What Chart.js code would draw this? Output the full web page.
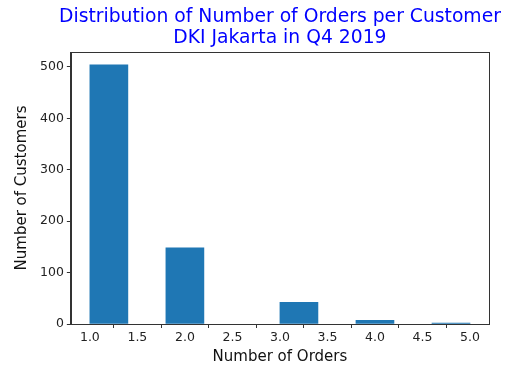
<!DOCTYPE html>
<html><head><meta charset="utf-8">
<script src="https://cdn.jsdelivr.net/npm/chart.js@4"></script>
<style>html,body{margin:0;padding:0;background:#fff}#wrap{width:525px;height:372px}</style>
</head><body><div id="wrap"><canvas id="c"></canvas></div>
<script>
const binCenters = [1.2, 1.6, 2.0, 2.4, 2.8, 3.2, 3.6, 4.0, 4.4, 4.8];
const counts = [504, 0, 148, 0, 0, 42, 0, 7, 0, 2];
const xTicks = [1.0, 1.5, 2.0, 2.5, 3.0, 3.5, 4.0, 4.5, 5.0];
const yTicks = [0, 100, 200, 300, 400, 500];
const titleLines = ['Distribution of Number of Orders per Customer', 'DKI Jakarta in Q4 2019'];

const frame = {
  id: 'frame',
  afterDraw(chart) {
    const a = chart.chartArea, ctx = chart.ctx;
    ctx.save();
    ctx.strokeStyle = '#333';
    ctx.lineWidth = 1;
    ctx.strokeRect(Math.round(a.left) + 0.5, Math.round(a.top) + 0.5, Math.round(a.right - a.left), Math.round(a.bottom - a.top));
    // title centred over the plot area, like matplotlib
    ctx.fillStyle = '#0000ff';
    ctx.font = '18.75px "DejaVu Sans"';
    ctx.textAlign = 'center';
    ctx.textBaseline = 'middle';
    const cx = (a.left + a.right) / 2;
    titleLines.forEach((t, i) => ctx.fillText(t, cx, a.top - 35 + i * 21));
    ctx.restore();
  }
};

new Chart(document.getElementById('c'), {
  type: 'bar',
  data: {
    datasets: [{
      data: binCenters.map((x, i) => ({x: x, y: counts[i] === 0 ? null : counts[i]})),
      backgroundColor: '#1f77b4',
      borderWidth: 0,
      barPercentage: 1.0,
      categoryPercentage: 1.0
    }]
  },
  options: {
    responsive: true, maintainAspectRatio: false, animation: false,
    layout: {padding: {left: 13, right: 36, top: 52, bottom: 6}},
    plugins: {
      legend: {display: false}, tooltip: {enabled: false},
      title: {display: false}
    },
    scales: {
      x: {
        type: 'linear', min: 0.8, max: 5.2, offset: false,
        afterBuildTicks: s => { s.ticks = xTicks.map(v => ({value: v})); },
        ticks: {callback: v => Number(v).toFixed(1), color: '#222', font: {family: 'DejaVu Sans', size: 12.5}, padding: 2, maxRotation: 0, autoSkip: false},
        grid: {drawOnChartArea: false, drawTicks: true, tickLength: 4, color: '#333'},
        border: {color: '#333'},
        title: {display: true, text: 'Number of Orders', color: '#111', font: {family: 'DejaVu Sans', size: 15}, padding: {top: 1, bottom: 0}}
      },
      y: {
        min: 0, max: 529,
        afterBuildTicks: s => { s.ticks = yTicks.map(v => ({value: v})); },
        ticks: {color: '#222', font: {family: 'DejaVu Sans', size: 12.5}, padding: 3},
        grid: {drawOnChartArea: false, drawTicks: true, tickLength: 4, color: '#333'},
        border: {color: '#333'},
        title: {display: true, text: 'Number of Customers', color: '#111', font: {family: 'DejaVu Sans', size: 15}, padding: {top: 0, bottom: 6}}
      }
    }
  },
  plugins: [frame]
});
</script></body></html>
